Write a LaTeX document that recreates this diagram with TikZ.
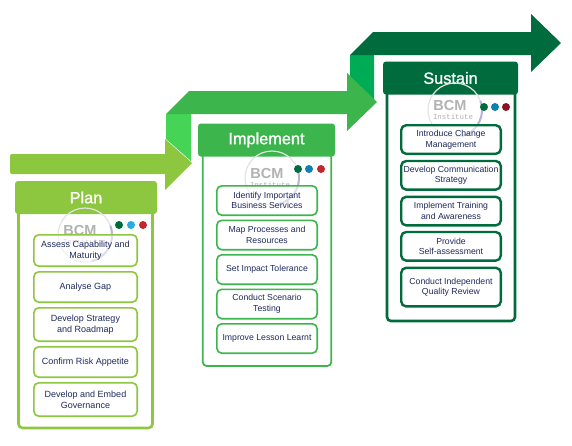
\documentclass[tikz,border=0pt]{standalone}
\usepackage{fontspec}
\setmainfont{Liberation Sans}
\setmonofont{Liberation Mono}
\newfontfamily\headfont[FakeBold=1.2]{Liberation Sans}
\usetikzlibrary{positioning}
\definecolor{Lime}{HTML}{8DC63F}
\definecolor{Leaf}{HTML}{3CB64C}
\definecolor{LeafLight}{HTML}{45D456}
\definecolor{Pine}{HTML}{006B3C}
\definecolor{PineLight}{HTML}{00AB55}
\definecolor{Ink}{HTML}{1F2A5C}
\definecolor{DotSky}{HTML}{29ABE2}
\definecolor{DotTeal}{HTML}{1080B0}
\definecolor{DotRed}{HTML}{C1272D}
\definecolor{DotWine}{HTML}{8E1126}
\tikzset{
  header/.style={rounded corners=3pt, inner sep=0pt, text=white, minimum width=#1, minimum height=33pt, font=\headfont\fontsize{16.3}{18}\selectfont},
  panel/.style={rounded corners=4pt, fill=white, inner sep=0pt, minimum width=#1},
  card/.style={rounded corners=5pt, fill=white, fill opacity=0.55, text opacity=1, inner sep=0pt, align=center, text=Ink, font=\fontsize{8.7}{10.6}\selectfont},
  plancard/.style={card, draw=Lime, line width=1.6pt, minimum width=103.4pt, minimum height=#1-1.6pt, font=\fontsize{9}{10.6}\selectfont},
  implementcard/.style={card, draw=Leaf, line width=1.6pt, minimum width=100.4pt, minimum height=#1-1.6pt},
  sustaincard/.style={card, draw=Pine, line width=2.4pt, minimum width=99.6pt, minimum height=#1-2.4pt},
  dot/.style={circle, inner sep=0pt, minimum size=8pt}
}
% faint logo behind the cards
\newcommand{\bcmlogo}[3]{
  \draw[gray!22, line width=1.2pt] (#1,#2) circle[radius=27];
  \draw[blue!30!gray!45, line width=2pt] (#1,#2) ++(-20:27) arc[start angle=-20, end angle=75, radius=27];
  \node[inner sep=0pt, text=gray!60, font=\fontsize{14.5}{15}\bfseries\selectfont] (#3bcm) at (#1-5,#2-4) {BCM};
  \node[inner sep=0pt, text=gray!60, font=\fontsize{7.4}{8}\ttfamily\selectfont] (#3inst) at (#1-2,#2+7) {Institute};
}
\begin{document}
\begin{tikzpicture}[x=1pt, y=-1pt]
\useasboundingbox (0,0) rectangle (572,445);

% arrows
\fill[LeafLight] (166,114) -- (191,114) -- (191,161) -- (166,139) -- cycle;
\fill[Lime] (192,163) -- (165,139) -- (165,154) [rounded corners=2pt] -- (10,154) -- (10,174) [sharp corners] -- (165,174) -- (165,190) -- cycle;
\fill[PineLight] (350,55) -- (374,55) -- (374,100) -- (350,78) -- cycle;
\fill[Leaf] (166,114) -- (189,91) -- (347,91) -- (347,73) -- (377,102) -- (347,131) -- (347,114) -- cycle;
\fill[Pine] (350,55) -- (373,32) -- (531,32) -- (531,14) -- (561,43) -- (531,72) -- (531,55) -- cycle;

% Plan
\node[panel=134pt, draw=Lime, line width=2.6pt, minimum height=220pt] (planpanel) at (85.5,318) {};
\node[header=142pt, fill=Lime] (plan) at (86,197.5) {Plan};
\bcmlogo{85}{235}{plan}
\node[dot, fill=Pine] (plandota) at (119,225) {};
\node[dot, fill=DotSky] (plandotb) at (131,225) {};
\node[dot, fill=DotRed] (plandotc) at (143,225) {};
\node[plancard=33pt] (assess) at (85.5,250.5) {Assess Capability and\\Maturity};
\node[plancard=32pt, below=4pt of assess] (gap) {Analyse Gap};
\node[plancard=35pt, below=4pt of gap] (roadmap) {Develop Strategy\\and Roadmap};
\node[plancard=32pt, below=4pt of roadmap] (appetite) {Confirm Risk Appetite};
\node[plancard=35pt, below=4pt of appetite] (governance) {Develop and Embed\\Governance};

% Implement
\node[panel=128.5pt, draw=Leaf, line width=1.8pt, minimum height=216pt] (implementpanel) at (267,258) {};
\node[header=137pt, fill=Leaf] (implement) at (266.5,140) {Implement};
\bcmlogo{272}{178}{implement}
\node[dot, fill=Pine] (implementdota) at (298,169) {};
\node[dot, fill=DotTeal] (implementdotb) at (309,169) {};
\node[dot, fill=DotRed] (implementdotc) at (321,169) {};
\node[implementcard=31pt] (services) at (267,200.5) {Identify Important\\Business Services};
\node[implementcard=31pt, below=3.5pt of services] (resources) {Map Processes and\\Resources};
\node[implementcard=31pt, below=3.5pt of resources] (tolerance) {Set Impact Tolerance};
\node[implementcard=31pt, below=3.5pt of tolerance] (scenario) {Conduct Scenario\\Testing};
\node[implementcard=31pt, below=3.5pt of scenario] (lesson) {Improve Lesson Learnt};

% Sustain
\node[panel=128pt, draw=Pine, line width=2.6pt, minimum height=232pt] (sustainpanel) at (451,205) {};
\node[header=135pt, fill=Pine] (sustain) at (450.5,78) {Sustain};
\bcmlogo{455}{110}{sustain}
\node[dot, fill=Pine] (sustaindota) at (484,107) {};
\node[dot, fill=DotTeal] (sustaindotb) at (495,107) {};
\node[dot, fill=DotWine] (sustaindotc) at (506,107) {};
\node[sustaincard=31pt] (change) at (451,139.5) {Introduce Change\\Management};
\node[sustaincard=31pt, below=4.8pt of change] (communication) {Develop Communication\\Strategy};
\node[sustaincard=31pt, below=4.8pt of communication] (training) {Implement Training\\and Awareness};
\node[sustaincard=31pt, below=4.2pt of training] (assessment) {Provide\\Self-assessment};
\node[sustaincard=41pt, below=4.8pt of assessment] (review) {Conduct Independent\\Quality Review};
\end{tikzpicture}
\end{document}
